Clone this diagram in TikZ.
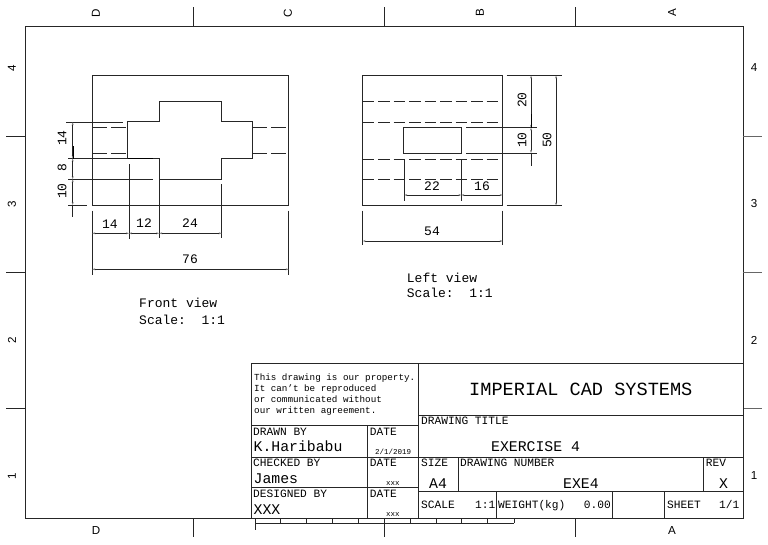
\documentclass[tikz,border=0pt]{standalone}
\usepackage{fontspec}
\setmainfont{Liberation Mono}
\newfontfamily\sheetfont{Liberation Sans}
\usetikzlibrary{arrows.meta}
\tikzset{
  line/.style={line width=0.9pt,black!85},
  hidden/.style={line width=0.9pt,black!85,dash pattern=on 11.5pt off 4pt},
  hidden long/.style={line width=0.9pt,black!85,dash pattern=on 15pt off 4pt},
  thin line/.style={line width=0.7pt,black!85},
  dimline/.style={line width=0.7pt,black!85,{Stealth[length=3pt,width=2pt,black!50]}-{Stealth[length=3pt,width=2pt,black!50]}},
  heavy/.style={line width=1.3pt,black},
  txt/.style={anchor=base west,inner sep=0pt,text=black},
  tiny/.style={txt,font=\fontsize{7.5}{9}\selectfont},
  note/.style={txt,font=\fontsize{9.25}{11}\selectfont},
  head/.style={txt,font=\fontsize{11.2}{13}\selectfont},
  entry/.style={txt,font=\fontsize{14.8}{17}\selectfont},
  dim/.style={font=\fontsize{13}{15}\selectfont,inner sep=0pt,text=black},
  zone/.style={font=\sheetfont\fontsize{11.6}{13}\selectfont,inner sep=0pt,text=black},
}
\begin{document}
\begin{tikzpicture}[x=1pt,y=-1pt]
      \useasboundingbox (0,0) rectangle (768,544);

      % sheet frame
      \draw[line] (25,26) rectangle (743,518);
      \draw[line] (193,7) -- (193,26);
      \draw[line] (384,7) -- (384,26);
      \draw[line] (575,7) -- (575,26);
      \draw[line] (193,518) -- (193,537);
      \draw[line] (384,518) -- (384,537);
      \draw[line] (575,518) -- (575,537);
      \draw[line] (6,136) -- (25,136);
      \draw[line] (6,272) -- (25,272);
      \draw[line] (6,408) -- (25,408);
      \draw[line,black!60] (743,136) -- (762,136);
      \draw[line,black!60] (743,272) -- (762,272);
      \draw[line,black!60] (743,408) -- (762,408);

      \node[zone,rotate=90] (topd) at (96,13) {D};
      \node[zone,rotate=90] (topc) at (288,13) {C};
      \node[zone,rotate=90] (topb) at (480,13) {B};
      \node[zone,rotate=90] (topa) at (672,13) {A};
      \node[zone] (botd) at (96,530.5) {D};
      \node[zone] (bota) at (672,530.5) {A};
      \node[zone,rotate=90] (left4) at (12,68) {4};
      \node[zone,rotate=90] (left3) at (12,204) {3};
      \node[zone,rotate=90] (left2) at (12,340) {2};
      \node[zone,rotate=90] (left1) at (12,476) {1};
      \node[zone] (right4) at (754,68) {4};
      \node[zone] (right3) at (754,204) {3};
      \node[zone] (right2) at (754,340) {2};
      \node[zone] (right1) at (754,476) {1};

      % front view
      \draw[line] (92.3,75) rectangle (288.7,205);
      \draw[line] (127.7,121.7) -- (159.3,121.7) -- (159.3,101.3) -- (221.7,101.3) -- (221.7,121.7) -- (252,121.7)
        -- (252,158.3) -- (221.7,158.3) -- (221.7,179) -- (159.3,179) -- (159.3,158.3) -- (127.7,158.3) -- cycle;
      \draw[hidden long] (92.3,127.7) -- (127.7,127.7);
      \draw[hidden long] (92.3,153) -- (127.7,153);
      \draw[hidden long] (252,127.7) -- (288.7,127.7);
      \draw[hidden long] (252,153) -- (288.7,153);

      \draw[thin line] (66,122.3) -- (123,122.3);
      \draw[thin line] (68,158.5) -- (153,158.5);
      \draw[thin line] (68,179.3) -- (153,179.3);
      \draw[thin line] (68,205) -- (87,205);
      \draw[dimline] (72.7,122.3) -- (72.7,158.5);
      \draw[dimline] (72.7,158.5) -- (72.7,179.3);
      \draw[dimline] (72.7,179.3) -- (72.7,205);
      \draw[thin line] (72.7,205) -- (72.7,217);
      \draw[heavy] (73.3,146) -- (73.3,158.5);
      \draw[heavy] (128,158.5) -- (153,158.5);
      \draw[heavy] (115,233.3) -- (128,233.3);

      \draw[thin line] (92.3,210.7) -- (92.3,275);
      \draw[thin line] (129,164) -- (129,239);
      \draw[thin line] (159.3,158) -- (159.3,238);
      \draw[thin line] (221.7,184) -- (221.7,238);
      \draw[thin line] (288.7,210.7) -- (288.7,275);
      \draw[dimline] (92.3,233.3) -- (129,233.3);
      \draw[dimline] (129,233.3) -- (159.3,233.3);
      \draw[dimline] (159.3,233.3) -- (221.7,233.3);
      \draw[dimline] (92.3,269.3) -- (288.7,269.3);

      \node[dim,rotate=90] (fh1) at (62,138) {14};
      \node[dim,rotate=90] (fh2) at (62,168) {8};
      \node[dim,rotate=90] (fh3) at (62,191) {10};
      \node[dim] (fw1) at (110,224) {14};
      \node[dim] (fw2) at (144,223) {12};
      \node[dim] (fw3) at (190,223) {24};
      \node[dim] (fw4) at (190,259) {76};

      % left view
      \draw[line] (362.5,75) rectangle (502.7,205);
      \draw[line] (403.7,127.7) rectangle (461.3,153);
      \draw[hidden] (362.5,101.3) -- (502.7,101.3);
      \draw[hidden] (362.5,122.3) -- (502.7,122.3);
      \draw[hidden] (362.5,159) -- (502.7,159);
      \draw[hidden] (362.5,179.3) -- (502.7,179.3);

      \draw[thin line] (506.7,75.5) -- (561.7,75.5);
      \draw[thin line] (506.7,205.5) -- (561.7,205.5);
      \draw[thin line] (466,127.7) -- (536.7,127.7);
      \draw[thin line] (466,153) -- (536.7,153);
      \draw[dimline] (531,75.5) -- (531,127.7);
      \draw[dimline] (531,127.7) -- (531,153);
      \draw[thin line] (531,153) -- (531,166);
      \draw[dimline] (556,75.5) -- (556,205.5);
      \draw[heavy] (531.5,114) -- (531.5,127.7);

      \draw[thin line] (404.3,159) -- (404.3,200.7);
      \draw[thin line] (461.3,159) -- (461.3,200.7);
      \draw[thin line] (362.7,210.7) -- (362.7,245);
      \draw[thin line] (502.7,210.7) -- (502.7,245);
      \draw[dimline] (404.3,195) -- (461.3,195);
      \draw[dimline] (461.3,195) -- (502.7,195);
      \draw[dimline] (362.7,241) -- (502.7,241);

      \node[dim,rotate=90] (lh1) at (522,100) {20};
      \node[dim,rotate=90] (lh2) at (522,140) {10};
      \node[dim,rotate=90] (lh3) at (547,140) {50};
      \node[dim] (lw1) at (432,186) {22};
      \node[dim] (lw2) at (482,186) {16};
      \node[dim] (lw3) at (432,231) {54};

      % view captions
      \node[dim,txt] (ftitle) at (139,307.7) {Front view};
      \node[dim,txt] (fscale) at (139,324) {Scale:\ \ 1:1};
      \node[dim,txt] (ltitle) at (406.7,282.3) {Left view};
      \node[dim,txt] (lscale) at (406.7,297.3) {Scale:\ \ 1:1};

      % title block
      \draw[line] (251,363) rectangle (743,518);
      \draw[line] (418.7,363) -- (418.7,518);
      \draw[line] (251,425) -- (418.7,425);
      \draw[line] (251,457) -- (743,457);
      \draw[line] (251,487) -- (418.7,487);
      \draw[line] (367.3,425) -- (367.3,518);
      \draw[line] (418.7,415) -- (743,415);
      \draw[line] (418.7,491) -- (743,491);
      \draw[line] (458,457) -- (458,491);
      \draw[line] (703.3,457) -- (703.3,491);
      \draw[line] (496,491) -- (496,518);
      \draw[line] (612.7,491) -- (612.7,518);
      \draw[line] (664.3,491) -- (664.3,518);

      \node[note] (prop1) at (254,380) {This drawing is our property.};
      \node[note] (prop2) at (254,391) {It can\symbol{39}t be reproduced};
      \node[note] (prop3) at (254,402) {or communicated without};
      \node[note] (prop4) at (254,413.7) {our written agreement.};

      \node[head] (drawn) at (253,435) {DRAWN BY};
      \node[entry] (drawnby) at (253.5,451.7) {K.Haribabu};
      \node[head] (date1) at (369.7,435) {DATE};
      \node[tiny] (date1v) at (375,454) {2/1/2019};
      \node[head] (checked) at (253,466.7) {CHECKED BY};
      \node[entry] (checkedby) at (253.5,483) {James};
      \node[head] (date2) at (369.7,466.7) {DATE};
      \node[tiny] (date2v) at (386,485) {xxx};
      \node[head] (designed) at (253,497) {DESIGNED BY};
      \node[entry] (designedby) at (253.5,514) {XXX};
      \node[head] (date3) at (369.7,497) {DATE};
      \node[tiny] (date3v) at (386,516.3) {xxx};

      \node[txt,font=\fontsize{18.6}{20}\selectfont] (company) at (469,395) {IMPERIAL CAD SYSTEMS};
      \node[head] (dtitle) at (421,424) {DRAWING TITLE};
      \node[entry] (dtitlev) at (491,451.7) {EXERCISE 4};
      \node[head] (size) at (421,466.7) {SIZE};
      \node[entry] (sizev) at (429,488) {A4};
      \node[head] (dnum) at (460,466.7) {DRAWING NUMBER};
      \node[entry] (dnumv) at (563,488) {EXE4};
      \node[head] (rev) at (705.7,466.7) {REV};
      \node[entry] (revv) at (719,488) {X};
      \node[head] (scale) at (421,508) {SCALE};
      \node[head] (scalev) at (475,508) {1:1};
      \node[head] (weight) at (498,508) {WEIGHT(kg)};
      \node[head] (weightv) at (583.7,508) {0.00};
      \node[head] (sheet) at (667,508) {SHEET};
      \node[head] (sheetv) at (719,508) {1/1};

      % ruler under the title block
      \draw[line] (255,523.3) -- (514,523.3);
      \draw[line] (255,518) -- (255,530);
      \draw[line] (280.7,518) -- (280.7,523.3);
      \draw[line] (306.3,518) -- (306.3,523.3);
      \draw[line] (332,518) -- (332,523.3);
      \draw[line] (358,518) -- (358,523.3);
      \draw[line] (410,518) -- (410,523.3);
      \draw[line] (436,518) -- (436,523.3);
      \draw[line] (461.7,518) -- (461.7,523.3);
      \draw[line] (487.3,518) -- (487.3,523.3);
      \draw[line] (514,518) -- (514,523.3);
    \end{tikzpicture}
\end{document}
